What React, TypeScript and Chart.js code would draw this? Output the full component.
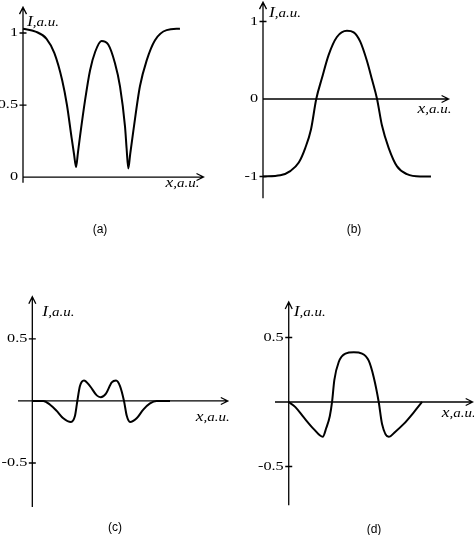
import React, { useEffect, useRef } from "react"
import Chart from "chart.js/auto"

// (a) intensity with two dips
const xA = [0, 0.8, 1.5, 2.0, 2.5, 2.8, 3.1, 3.25, 3.38, 3.5, 3.63, 3.95, 4.27, 4.6, 5.0, 5.43, 5.86, 6.18, 6.5, 6.6, 6.71, 6.83, 7.03, 7.45, 7.88, 8.41, 9.15, 10]
const iA = [1.03, 1.01, 0.96, 0.86, 0.67, 0.5, 0.27, 0.16, 0.07, 0.17, 0.28, 0.53, 0.74, 0.87, 0.945, 0.92, 0.79, 0.63, 0.35, 0.2, 0.06, 0.16, 0.32, 0.63, 0.81, 0.95, 1.02, 1.03]
const ticksA = [0, 0.5, 1]
const tickTextA = ["0", "0.5", "1"]

// (b) single hump from -1 to about 0.9
const xB = [0, 1.03, 1.62, 2.13, 2.52, 2.86, 3.17, 3.51, 3.91, 4.4, 5.0, 5.4, 5.79, 6.19, 6.49, 6.79, 7.08, 7.48, 7.98, 8.57, 9.36, 10]
const iB = [-1, -0.985, -0.93, -0.82, -0.63, -0.39, 0, 0.27, 0.57, 0.8, 0.88, 0.86, 0.74, 0.49, 0.25, 0, -0.34, -0.63, -0.87, -0.97, -1.0, -1.0]
const ticksB = [-1, 0, 1]
const tickTextB = ["-1", "0", "1"]

// (c) small double peak
const xC = [0, 0.8, 1.29, 1.77, 2.25, 2.81, 3.1, 3.27, 3.46, 3.75, 4.19, 4.68, 4.97, 5.35, 5.77, 6.08, 6.37, 6.66, 6.86, 7.1, 7.58, 8.06, 8.55, 9.03, 10]
const iC = [0, 0, -0.03, -0.08, -0.14, -0.17, -0.12, 0, 0.12, 0.165, 0.12, 0.045, 0.03, 0.06, 0.15, 0.165, 0.12, 0, -0.12, -0.17, -0.14, -0.07, -0.02, 0, 0]
const ticksC = [-0.5, 0.5]
const tickTextC = ["-0.5", "0.5"]

// (d) flat-topped hump with side lobes
const xD = [0, 0.5, 1.13, 1.88, 2.55, 2.82, 3.08, 3.25, 3.42, 3.75, 4.25, 4.88, 5.5, 6.0, 6.38, 6.75, 7.0, 7.5, 8.0, 8.63, 9.38, 10]
const iD = [0, -0.04, -0.12, -0.21, -0.27, -0.2, -0.11, 0, 0.17, 0.31, 0.375, 0.385, 0.375, 0.32, 0.19, 0, -0.17, -0.27, -0.23, -0.17, -0.08, 0]
const ticksD = [-0.5, 0.5]
const tickTextD = ["-0.5", "0.5"]

const SERIF = "'Liberation Serif', 'Times New Roman', serif"
const STRETCH = 1.25

interface Panel {
  caption: string
  xs: number[]
  ys: number[]
  ticks: number[]
  tickText: string[]
  xMin: number
  xMax: number
  yMin: number
  yMax: number
  box: number[] // left, top, width, height
  pad: number[] // left, right, top, bottom
  iLabel: number[] // dx from y axis, dy from its top
  xLabel: number[] // dx of right edge from arrow tip, dy from x axis
  capPos: number[]
}

const panels: Panel[] = [
  {
    caption: "(a)", xs: xA, ys: iA, ticks: ticksA, tickText: tickTextA,
    xMin: 0, xMax: 11.5, yMin: -0.04, yMax: 1.18,
    box: [0, 0, 237, 250], pad: [23, 33.5, 7.1, 67.2],
    iLabel: [4, 19], xLabel: [-4, 10], capPos: [100, 230],
  },
  {
    caption: "(b)", xs: xB, ys: iB, ticks: ticksB, tickText: tickTextB,
    xMin: 0, xMax: 11.05, yMin: -1.28, yMax: 1.25,
    box: [237, 0, 237, 250], pad: [26, 25.4, 2.1, 51.8],
    iLabel: [6, 15], xLabel: [3, 14], capPos: [117, 230],
  },
  {
    caption: "(c)", xs: xC, ys: iC, ticks: ticksC, tickText: tickTextC,
    xMin: -1.04, xMax: 14.2, yMin: -0.855, yMax: 0.84,
    box: [0, 260, 237, 275], pad: [18, 9.2, 36.8, 28],
    iLabel: [10, 19], xLabel: [2, 20], capPos: [115, 268],
  },
  {
    caption: "(d)", xs: xD, ys: iD, ticks: ticksD, tickText: tickTextD,
    xMin: -1.03, xMax: 13.8, yMin: -0.8, yMax: 0.775,
    box: [237, 260, 237, 275], pad: [38, 1.3, 42, 29.8],
    iLabel: [5, 14], xLabel: [3, 15], capPos: [137, 270],
  },
]

function stretched(ctx: CanvasRenderingContext2D, text: string, x: number, y: number) {
  ctx.save()
  ctx.translate(x, y)
  ctx.scale(STRETCH, 1)
  ctx.fillText(text, 0, 0)
  ctx.restore()
}

// "I,a.u." style label: big italic letter followed by smaller italic units
function axisTitle(ctx: CanvasRenderingContext2D, letter: string, x: number, y: number, alignRight: boolean) {
  ctx.textAlign = "left"
  ctx.textBaseline = "alphabetic"
  ctx.font = `italic 14px ${SERIF}`
  const w1 = ctx.measureText(letter).width * STRETCH
  ctx.font = `italic 12px ${SERIF}`
  const w2 = ctx.measureText(",a.u.").width * STRETCH
  const start = alignRight ? x - w1 - w2 : x
  ctx.font = `italic 14px ${SERIF}`
  stretched(ctx, letter, start, y)
  ctx.font = `italic 12px ${SERIF}`
  stretched(ctx, ",a.u.", start + w1, y)
}

function makeAxes(p: Panel) {
  return {
    id: "sketchAxes",
    afterDatasetsDraw(chart: Chart) {
      const { ctx } = chart
      const sx = chart.scales.x
      const sy = chart.scales.y
      const x0 = sx.getPixelForValue(0)
      const y0 = sy.getPixelForValue(0)
      const left = sx.getPixelForValue(p.xMin)
      const right = sx.getPixelForValue(p.xMax)
      const top = sy.getPixelForValue(p.yMax)
      const bottom = sy.getPixelForValue(p.yMin)
      ctx.save()
      ctx.strokeStyle = "#000"
      ctx.lineWidth = 1.3
      ctx.beginPath()
      ctx.moveTo(left, y0)
      ctx.lineTo(right, y0)
      ctx.moveTo(x0, bottom)
      ctx.lineTo(x0, top)
      ctx.moveTo(right - 7, y0 - 3.5)
      ctx.lineTo(right, y0)
      ctx.lineTo(right - 7, y0 + 3.5)
      ctx.moveTo(x0 - 3.5, top + 7)
      ctx.lineTo(x0, top)
      ctx.lineTo(x0 + 3.5, top + 7)
      p.ticks.forEach((v) => {
        if (v === 0) return
        const py = sy.getPixelForValue(v)
        ctx.moveTo(x0 - 3.5, py)
        ctx.lineTo(x0 + 3.5, py)
      })
      ctx.stroke()

      ctx.fillStyle = "#000"
      ctx.font = `13px ${SERIF}`
      ctx.textBaseline = "middle"
      p.ticks.forEach((v, k) => {
        const txt = p.tickText[k]
        const w = ctx.measureText(txt).width * STRETCH
        stretched(ctx, txt, x0 - 5 - w, sy.getPixelForValue(v))
      })

      axisTitle(ctx, "I", x0 + p.iLabel[0], top + p.iLabel[1], false)
      axisTitle(ctx, "x", right + p.xLabel[0], y0 + p.xLabel[1], true)

      ctx.font = "12px 'Liberation Sans', Arial, sans-serif"
      ctx.textAlign = "center"
      ctx.textBaseline = "middle"
      ctx.fillText(p.caption, p.capPos[0], p.capPos[1])
      ctx.restore()
    },
  }
}

function PanelChart({ p }: { p: Panel }) {
  const ref = useRef<HTMLCanvasElement>(null)

  useEffect(() => {
    let chart: Chart | null = null
    if (ref.current) {
      chart = new Chart(ref.current, {
        type: "line",
        data: {
          datasets: [
            {
              data: p.xs.map((x, k) => ({ x, y: p.ys[k] })),
              borderColor: "#000",
              borderWidth: 2,
              pointRadius: 0,
              cubicInterpolationMode: "monotone",
              fill: false,
              clip: false,
            },
          ],
        },
        options: {
          animation: false,
          responsive: false,
          events: [],
          layout: {
            padding: { left: p.pad[0], right: p.pad[1], top: p.pad[2], bottom: p.pad[3] },
          },
          plugins: { legend: { display: false }, tooltip: { enabled: false } },
          scales: {
            x: { type: "linear", display: false, min: p.xMin, max: p.xMax, bounds: "data" },
            y: { type: "linear", display: false, min: p.yMin, max: p.yMax, bounds: "data" },
          },
        },
        plugins: [makeAxes(p)],
      })
    }
    return () => {
      chart?.destroy()
    }
  }, [p])

  return (
    <canvas
      ref={ref}
      width={p.box[2]}
      height={p.box[3]}
      style={{ position: "absolute", left: p.box[0], top: p.box[1], width: p.box[2], height: p.box[3] }}
    />
  )
}

export default function App() {
  return (
    <div style={{ position: "absolute", left: 0, top: 0, width: 474, height: 535, background: "#fff", overflow: "hidden" }}>
      {panels.map((p) => (
        <PanelChart key={p.caption} p={p} />
      ))}
    </div>
  )
}
